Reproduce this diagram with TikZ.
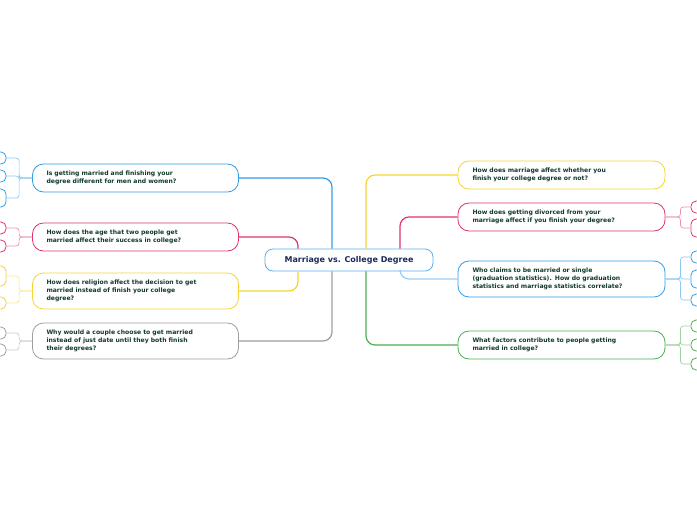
\documentclass[tikz,border=0pt]{standalone}
\usepackage{fontspec}
\setmainfont{DejaVu Sans}
\definecolor{cb}{HTML}{2E9EE8}
\definecolor{cp}{HTML}{E0336D}
\definecolor{cy}{HTML}{F5D532}
\definecolor{cg}{HTML}{9E9E9E}
\definecolor{cgr}{HTML}{4CAF50}
\definecolor{txt}{HTML}{123A2C}
\definecolor{ctr}{HTML}{1B2A5C}
\newcommand\lleaf[4]{%
  \draw[tw,#1!55,rounded corners=3pt] (#2.west) -- ([xshift=-13pt]#2.west) |- (5,#3);
  \node[lf,draw=#1,minimum height=#4pt] at (-2,#3) {};}
\newcommand\rleaf[4]{%
  \draw[tw,#1!55,rounded corners=3pt] (#2.east) -- ([xshift=15pt]#2.east) |- (690,#3);
  \node[lf,draw=#1,minimum height=#4pt] at (699,#3) {};}
\begin{document}
\begin{tikzpicture}[x=1pt,y=-1pt,
  q/.style={draw,line width=0.8pt,fill=white,rounded corners=11pt,minimum width=205pt,text width=178pt,align=left,inner xsep=14pt,font=\fontsize{6.1}{8}\selectfont\bfseries,text=txt},
  lf/.style={draw,line width=0.8pt,fill=white,rounded corners=5pt,minimum width=16pt},
  br/.style={line width=1.2pt,rounded corners=9pt},
  tw/.style={line width=0.7pt}]
\useasboundingbox (0,0) rectangle (697,520);
\clip (0,0) rectangle (697,520);
\node[draw=cb!80,line width=0.8pt,fill=white,rounded corners=8pt,minimum width=168pt,minimum height=22pt,font=\fontsize{8}{9}\selectfont\bfseries,text=ctr] (c) at (349,260) {Marriage vs. College Degree};
\node[q,draw=cb,minimum height=28pt] (L1) at (135.5,178) {Is getting married and finishing your\\degree different for men and women?};
\node[q,draw=cp,minimum height=28pt] (L2) at (135.5,237) {How does the age that two people get\\married affect their success in college?};
\node[q,draw=cy,minimum height=36pt] (L3) at (135.5,291) {How does religion affect the decision to get\\married instead of finish your college\\degree?};
\node[q,draw=cg,minimum height=36pt] (L4) at (135.5,341) {Why would a couple choose to get married\\instead of just date until they both finish\\their degrees?};
\node[q,draw=cy,minimum height=28pt,minimum width=207pt] (R1) at (561.5,175) {How does marriage affect whether you\\finish your college degree or not?};
\node[q,draw=cp,minimum height=28pt,minimum width=207pt] (R2) at (561.5,217) {How does getting divorced from your\\marriage affect if you finish your degree?};
\node[q,draw=cb,minimum height=36pt,minimum width=207pt] (R3) at (561.5,279) {Who claims to be married or single\\(graduation statistics). How do graduation\\statistics and marriage statistics correlate?};
\node[q,draw=cgr,minimum height=28pt,minimum width=207pt] (R4) at (561.5,345) {What factors contribute to people getting\\married in college?};
\draw[br,cb] (L1.east) -| ([xshift=-17pt]c.north);
\draw[br,cp] (L2.east) -| ([xshift=-51pt]c.north);
\draw[br,cy] (L3.east) -| ([xshift=-51pt]c.south);
\draw[br,cg] (L4.east) -| ([xshift=-17pt]c.south);
\draw[br,cy] (R1.west) -| ([xshift=17pt]c.north);
\draw[br,cp] (R2.west) -| ([xshift=51pt]c.north);
\draw[br,cb!50] (R3.west) -| ([xshift=51pt]c.south);
\draw[br,cgr] (R4.west) -| ([xshift=17pt]c.south);
\lleaf{cb}{L1}{158}{12}\lleaf{cb}{L1}{176}{12}\lleaf{cb}{L1}{198}{18}
\lleaf{cp}{L2}{228}{12}\lleaf{cp}{L2}{246}{12}
\lleaf{cy}{L3}{276}{20}\lleaf{cy}{L3}{303}{12}
\lleaf{cg}{L4}{333}{12}\lleaf{cg}{L4}{350}{12}
\rleaf{cp}{R2}{207}{12}\rleaf{cp}{R2}{228}{18}
\rleaf{cb}{R3}{257}{12}\rleaf{cb}{R3}{279}{18}\rleaf{cb}{R3}{300}{12}
\rleaf{cgr}{R4}{326}{12}\rleaf{cgr}{R4}{345}{12}\rleaf{cgr}{R4}{364}{12}
\end{tikzpicture}
\end{document}
